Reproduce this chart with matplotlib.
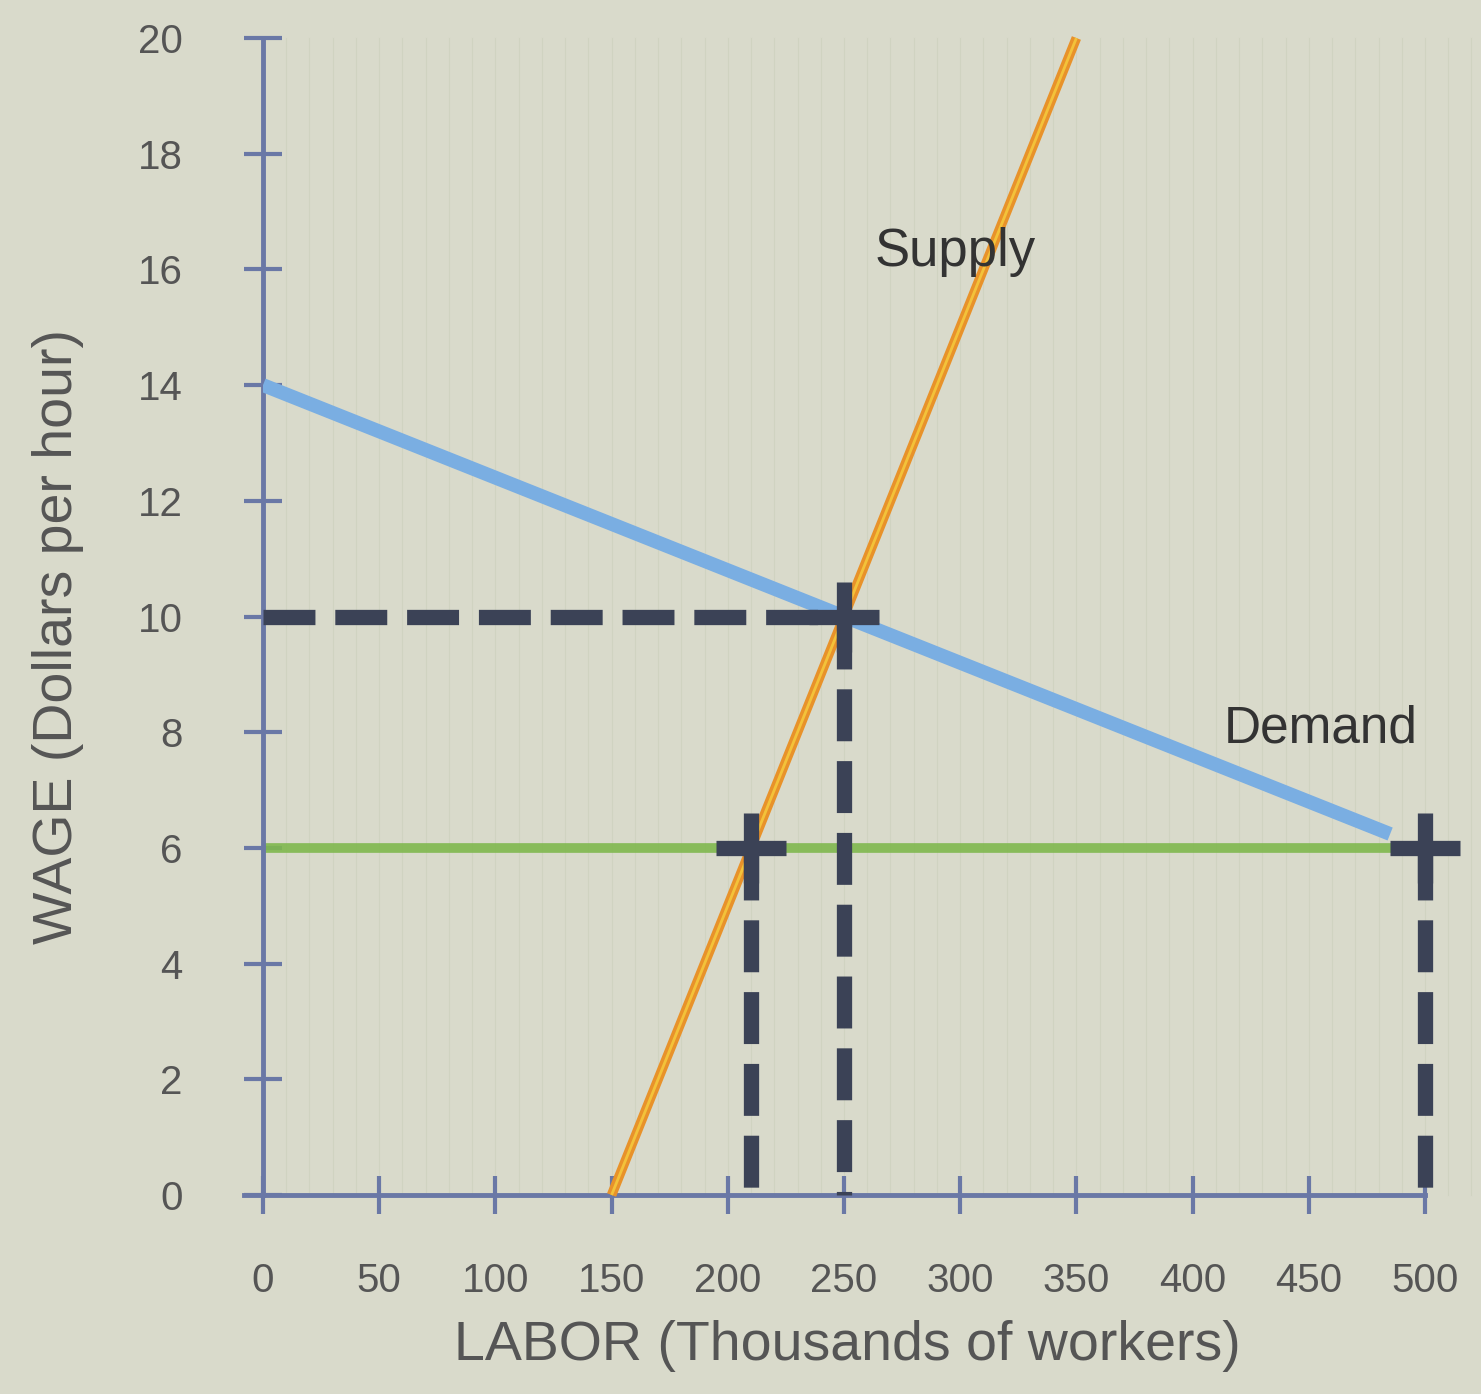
import matplotlib
matplotlib.use("Agg")
import matplotlib.pyplot as plt
import numpy as np

plt.rcParams['font.family'] = ['Liberation Sans', 'DejaVu Sans']

# Data
supply_x = [150, 350]
supply_y = [0, 20]
demand_x = [0, 485]
demand_y = [14, 6.24]
min_wage = 6
min_wage_x = [0, 490]
eq_point = (250, 10)
qs_point = (210, 6)
qd_point = (500, 6)
xticks = list(range(0, 501, 50))
yticks = list(range(0, 21, 2))

bg = '#d9dacb'
W, H = 1481, 1394
fig = plt.figure(figsize=(W/100, H/100), dpi=100, facecolor=bg)
ax = fig.add_axes([263/W, (H-1195)/H, (1425-263)/W, (1195-38)/H])
ax.set_facecolor(bg)
ax.set_xlim(0, 500)
ax.set_ylim(0, 20)

# faint grid
for gx in range(0, 521, 10):
    ax.axvline(gx, color='#d0d3c1', lw=0.8, zorder=0, clip_on=False)

axc = '#6a78a6'
for s in ['top', 'right']:
    ax.spines[s].set_visible(False)
ax.spines['left'].set_position(('data', 0))
ax.spines['bottom'].set_position(('data', 0))
ax.spines['left'].set_bounds(0, 20)
ax.spines['bottom'].set_bounds(-8, 500)
ax.spines['left'].set_color(axc)
ax.spines['bottom'].set_color(axc)
ax.spines['left'].set_linewidth(3.5)
ax.spines['bottom'].set_linewidth(3.5)

ax.set_xticks(xticks)
ax.set_yticks(yticks)
ax.tick_params(axis='y', direction='inout', length=28, width=3, color=axc,
               pad=44, labelsize=29, labelcolor='#555555')
ax.tick_params(axis='x', direction='inout', length=28, width=3, color=axc,
               pad=34, labelsize=29, labelcolor='#555555')

ax.set_xlabel('LABOR (Thousands of workers)', fontsize=40, color='#555555')
ax.set_ylabel('WAGE (Dollars per hour)', fontsize=40, color='#555555')
ax.xaxis.set_label_coords(0.503, -0.108)
ax.yaxis.set_label_coords(-0.154, 0.483)

# Minimum wage line
ax.plot(min_wage_x, [min_wage, min_wage], color='#7fb84e', lw=7, alpha=0.9,
        solid_capstyle='butt', zorder=2, clip_on=False)

# Demand
ax.plot(demand_x, demand_y, color='#7aaee2', lw=10, solid_capstyle='butt', zorder=3)
# Supply
ax.plot(supply_x, supply_y, color='#e8922a', lw=7, solid_capstyle='butt', zorder=3, clip_on=False)
ax.plot(supply_x, supply_y, color='#f3c23a', lw=2, solid_capstyle='butt', zorder=3, clip_on=False)

dark = '#3b4256'
dash = dict(color=dark, lw=11, dashes=(3.4, 1.3), zorder=4, clip_on=False)
ax.plot([0, eq_point[0]], [eq_point[1], eq_point[1]], **dash)
ax.plot([eq_point[0], eq_point[0]], [eq_point[1], 0], **dash)
ax.plot([qs_point[0], qs_point[0]], [qs_point[1], 0], **dash)
ax.plot([qd_point[0], qd_point[0]], [qd_point[1], 0], **dash)

for px, py in [eq_point, qs_point, qd_point]:
    ax.plot([px], [py], marker='+', markersize=50, markeredgewidth=11,
            color=dark, zorder=5, clip_on=False)

ax.text(298, 16.3, 'Supply', fontsize=38, color='#333333', ha='center', va='center', zorder=6)
ax.text(455, 8.05, 'Demand', fontsize=37, color='#333333', ha='center', va='center', zorder=6)

fig.savefig('out.png', dpi=100, facecolor=bg)
